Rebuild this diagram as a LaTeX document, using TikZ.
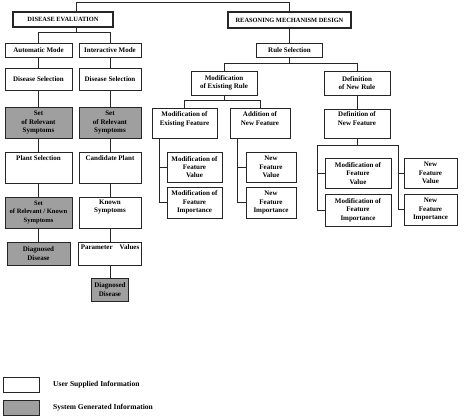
\documentclass[tikz,border=0pt]{standalone}
\usepackage{fontspec}
\setmainfont{Liberation Serif}
\begin{document}
\begin{tikzpicture}[x=1pt,y=-1pt,
  box/.style={draw=black!85, line width=0.9pt, fill=white, inner sep=1pt, align=center, font=\bfseries\fontsize{7}{8.3}\selectfont},
  gbox/.style={box, fill=gray!75},
  title/.style={box, line width=1.5pt, font=\bfseries\fontsize{6.4}{8}\selectfont},
  conn/.style={draw=black!85, line width=0.8pt},
  leg/.style={anchor=west, inner sep=0pt, font=\bfseries\fontsize{7.5}{9}\selectfont}]
\useasboundingbox (0,0) rectangle (474,418);
% titles
\node[title, minimum width=100pt, minimum height=15pt] (de) at (63,19.5) {DISEASE EVALUATION};
\node[title, minimum width=123pt, minimum height=16pt] (rmd) at (289.5,20) {REASONING MECHANISM DESIGN};
% left part
\node[box, minimum width=67pt, minimum height=14pt] (am) at (38.5,50) {Automatic Mode};
\node[box, minimum width=62pt, minimum height=14pt] (im) at (110,50) {Interactive Mode};
\node[box, minimum width=67pt, minimum height=22pt] (ds1) at (38.5,79) {Disease Selection};
\node[box, minimum width=62pt, minimum height=22pt] (ds2) at (110,79) {Disease Selection};
\node[gbox, minimum width=67pt, minimum height=31pt] (srs1) at (38.5,122.5) {Set\\of Relevant\\Symptoms};
\node[gbox, minimum width=62pt, minimum height=31pt] (srs2) at (110,122.5) {Set\\of Relevant\\Symptoms};
\node[box, minimum width=67pt, minimum height=31pt, text depth=19pt] (ps) at (38.5,167.5) {Plant Selection};
\node[box, minimum width=62pt, minimum height=31pt, text depth=19pt] (cp) at (110,167.5) {Candidate Plant};
\node[gbox, minimum width=67pt, minimum height=31pt, font=\bfseries\fontsize{6.6}{8.3}\selectfont] (srks) at (38.5,212.5) {Set\\of Relevant / Known\\Symptoms};
\node[box, minimum width=62pt, minimum height=31pt, text depth=12pt] (ks) at (110,212.5) {Known\\Symptoms};
\node[gbox, minimum width=63pt, minimum height=23pt] (dd1) at (38.5,253.5) {Diagnosed\\Disease};
\node[box, minimum width=63pt, minimum height=23pt, text depth=13pt] (pv) at (110,253.5) {Parameter\quad Values};
\node[gbox, minimum width=37pt, minimum height=23pt] (dd2) at (110,289.5) {Diagnosed\\Disease};
% right part
\node[box, minimum width=66pt, minimum height=14pt] (rs) at (289.5,50) {Rule Selection};
\node[box, minimum width=66pt, minimum height=24pt] (mer) at (224,83) {Modification\\of Existing Rule};
\node[box, minimum width=66pt, minimum height=24pt] (dnr) at (357,83) {Definition\\of New Rule};
\node[box, minimum width=65pt, minimum height=30pt, text depth=9pt] (mef) at (184.5,123) {Modification of\\Existing Feature};
\node[box, minimum width=60pt, minimum height=30pt, text depth=9pt] (anf) at (260,123) {Addition of\\New Feature};
\node[box, minimum width=55pt, minimum height=30pt] (mfv1) at (194.5,167) {Modification of\\Feature\\Value};
\node[box, minimum width=55pt, minimum height=31pt] (mfi1) at (194.5,202.5) {Modification of\\Feature\\Importance};
\node[box, minimum width=50pt, minimum height=30pt] (nfv1) at (271,167) {New\\Feature\\Value};
\node[box, minimum width=50pt, minimum height=31pt] (nfi1) at (271,202.5) {New\\Feature\\Importance};
\node[box, minimum width=66pt, minimum height=29pt, text depth=10pt] (dnf) at (357,123.5) {Definition of\\New Feature};
\node[box, minimum width=66pt, minimum height=30pt] (mfv2) at (358,173.5) {Modification of\\Feature\\Value};
\node[box, minimum width=66pt, minimum height=32pt] (mfi2) at (358,210) {Modification of\\Feature\\Importance};
\node[box, minimum width=53pt, minimum height=30pt] (nfv2) at (430.5,173) {New\\Feature\\Value};
\node[box, minimum width=53pt, minimum height=31pt] (nfi2) at (430.5,209.5) {New\\Feature\\Importance};
% legend
\node[box, minimum width=36pt, minimum height=15pt] (lu) at (21,384.5) {};
\node[gbox, minimum width=36pt, minimum height=15pt] (ls) at (21,407.5) {};
\node[leg] (lut) at (53,384.5) {User Supplied Information};
\node[leg] (lst) at (53,407.5) {System Generated Information};
% connectors
\draw[conn] ([xshift=13pt]de.north) -- ++(0,-9) -| (rmd.north);
\draw[conn] ([xshift=13pt]de.south) -- ++(0,5) coordinate (j1);
\draw[conn] (am.north) |- (j1) -| (im.north);
\draw[conn] (am.south) -- (ds1.north);
\draw[conn] (ds1.south) -- (srs1.north);
\draw[conn] (srs1.south) -- (ps.north);
\draw[conn] (ps.south) -- (srks.north);
\draw[conn] (srks.south) -- (dd1.north);
\draw[conn] (im.south) -- (ds2.north);
\draw[conn] (ds2.south) -- (srs2.north);
\draw[conn] (srs2.south) -- (cp.north);
\draw[conn] (cp.south) -- (ks.north);
\draw[conn] (ks.south) -- (pv.north);
\draw[conn] (pv.south) -- (dd2.north);
\draw[conn] (rmd.south) -- (rs.north);
\draw[conn] (rs.south) -- ++(0,6) coordinate (j2);
\draw[conn] (mer.north) |- (j2) -| (dnr.north);
\draw[conn] (mer.south) -- ++(0,5) coordinate (j3);
\draw[conn] (mef.north) |- (j3) -| (anf.north);
\draw[conn] ([xshift=8pt]mef.south west) |- (mfv1.west);
\draw[conn] ([xshift=8pt]mef.south west) |- (mfi1.west);
\draw[conn] ([xshift=8pt]anf.south west) |- (nfv1.west);
\draw[conn] ([xshift=8pt]anf.south west) |- (nfi1.west);
\draw[conn] (dnr.south) -- (dnf.north);
\draw[conn] (dnf.south) -- ++(0,7) coordinate (j4);
\coordinate (dl) at (317,145);
\coordinate (dr) at (398,145);
\draw[conn] (dl) -- (dr);
\draw[conn] (mfv2.west) -| (dl);
\draw[conn] (mfi2.west) -| (dl);
\draw[conn] (nfv2.west) -| (dr);
\draw[conn] (nfi2.west) -| (dr);
\end{tikzpicture}
\end{document}
